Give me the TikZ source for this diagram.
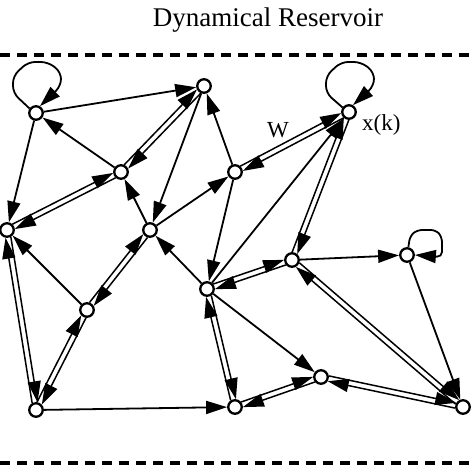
\documentclass[tikz,border=0pt]{standalone}
\usepackage{fontspec}
\setmainfont{Liberation Serif}
\usetikzlibrary{arrows.meta,calc}
\newcommand\offs{2.7pt}
\newcommand\bidedge[2]{%
  \draw[dbl] ($(#1.center)!\offs!90:(#2.center)$) -- ($(#2.center)!\offs!-90:(#1.center)$);
  \draw[dbl] ($(#2.center)!\offs!90:(#1.center)$) -- ($(#1.center)!\offs!-90:(#2.center)$);}
\begin{document}
\begin{tikzpicture}[x=1pt,y=-1pt,
  nd/.style={circle,draw,line width=2.3pt,fill=white,minimum size=13.5pt,inner sep=0pt},
  tip/.style={-{Triangle[length=21pt,width=13pt]}},
  arr/.style={line width=1.8pt,tip},
  dbl/.style={line width=1.5pt,tip,shorten <=7.4pt,shorten >=7.4pt},
  sep/.style={line width=4pt,dash pattern=on 10pt off 7pt},
  lbl/.style={font=\fontsize{23}{27}\selectfont,inner sep=0pt}]
\useasboundingbox[fill=white] (0,0) rectangle (474,474);
\node[font=\fontsize{27}{32}\selectfont,inner sep=0pt,anchor=base] (title) at (268,26) {Dynamical Reservoir};
\draw[sep] (0,55) -- (474,55);
\draw[sep] (0,463) -- (474,463);
% nodes
\node[nd] (A) at (36,113) {};
\node[nd] (B) at (204,86) {};
\node[nd] (C) at (121,172) {};
\node[nd] (D) at (235,172) {};
\node[nd] (E) at (349,112) {};
\node[nd] (F) at (7,230) {};
\node[nd] (G) at (150,230) {};
\node[nd] (H) at (87,310) {};
\node[nd] (I) at (36,410) {};
\node[nd] (J) at (207,289) {};
\node[nd] (K) at (292,260) {};
\node[nd] (L) at (407,255) {};
\node[nd] (M) at (321,377) {};
\node[nd] (N) at (235,407) {};
\node[nd] (O) at (463,407) {};
% labels
\node[lbl,anchor=base] (w) at (278,137) {W};
\node[lbl,anchor=base west] (xk) at (362,130) {x(k)};
% single edges
\draw[arr] (A) -- (B);
\draw[arr] (C) -- (A);
\draw[arr] (A) -- (F);
\draw[arr] (B) -- (G);
\draw[arr] (D) -- (B);
\draw[arr] (G) -- (C);
\draw[arr] (G) -- (D);
\draw[arr] (H) -- (F);
\draw[arr] (J) -- (G);
\draw[arr] (D) -- (J);
\draw[arr] (J) -- (E);
\draw[arr] (I) -- (N);
\draw[arr] (K) -- (L);
\draw[arr] (L) -- (O);
\draw[arr] (J) -- (M);
% self loops
\draw[arr,rounded corners=7pt] (A.145) -- (13,93) -- (13,76) -- (28,62) -- (48,62) -- (61,72) -- (61,86) -- (A.60);
\draw[arr,rounded corners=7pt] (E.145) -- (326,93) -- (326,76) -- (341,62) -- (361,62) -- (374,72) -- (374,86) -- (E.60);
\draw[arr,rounded corners=5pt] (L.80) -- (410,236) -- (417,230) -- (436,230) -- (442,237) -- (442,257) -- (L.east);
% bidirectional edges
\bidedge{B}{C}
\bidedge{C}{F}
\bidedge{F}{I}
\bidedge{G}{H}
\bidedge{H}{I}
\bidedge{D}{E}
\bidedge{E}{K}
\bidedge{J}{K}
\bidedge{J}{N}
\bidedge{N}{M}
\bidedge{M}{O}
\bidedge{K}{O}
\end{tikzpicture}
\end{document}
